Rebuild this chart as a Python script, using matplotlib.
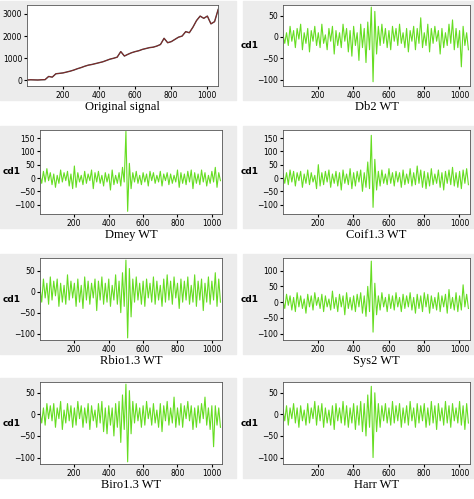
import numpy as np
import matplotlib
matplotlib.use("Agg")
import matplotlib.pyplot as plt
from matplotlib.patches import Rectangle

# original signal, one value every 20 samples
orig = [20, 30, 25, 20, 30, 35, 180, 150, 300, 320, 340, 380, 420, 470, 530, 580, 640, 690,
        720, 760, 800, 840, 900, 960, 1000, 1050, 1300, 1100, 1180, 1250, 1300, 1340, 1400, 1440,
        1480, 1500, 1550, 1620, 1900, 1700, 1750, 1850, 1950, 2000, 2200, 2150, 2400, 2700,
        2900, 2800, 2900, 2550, 2650, 3200]

db2 = [5, -15, 10, -20, 25, -10, 15, -25, 20, -5, 30, -30, 10, -15, 20, -35, 15, -10, 25, -20,
       10, -25, 30, -15, 5, -30, 20, -10, 25, -40, 15, -20, 10, -25, 30, -10, 20, -35, 15, -45,
       25, -20, 10, -55, 30, -25, 20, -60, 35, -30, 70, -105, 60, -40, 25, -20, 30, -15, 20, -25,
       15, -30, 25, -10, 20, -20, 30, -15, 10, -25, 20, -35, 15, -10, 25, -30, 20, -15, 45, -25,
       10, -20, 30, -35, 20, -15, 25, -10, 15, -40, 20, -25, 10, -20, 30, -15, 40, -30, 20, -25,
       15, -70, 25, -20, 10, -30]
dmey = [10, -20, 25, -15, 35, -10, 20, -25, 15, -35, 10, -20, 30, -15, 20, -10, 25, -30, 15, -40,
        45, -35, 20, -15, 10, -25, 25, -20, 15, -10, 30, -40, 20, -15, 25, -20, 10, -30, 20, -15,
        15, -45, 30, -25, 10, -20, 20, -30, 40, -15, 175, -125, 55, -40, 20, -15, 25, -20, 10, -25,
        20, -15, 15, -30, 25, -10, 20, -20, 10, -15, 25, -30, 15, -10, 20, -25, 15, -20, 10, -15,
        30, -35, 20, -20, 15, -25, 25, -15, 30, -40, 20, -20, 15, -25, 30, -15, 20, -30, 10, -20,
        25, -15, 40, -35, 20, -10]
coif = [15, -20, 20, -25, 30, -15, 25, -30, 20, -10, 25, -35, 15, -20, 30, -25, 20, -15, 10, -40,
        50, -30, 20, -25, 25, -15, 30, -35, 15, -20, 25, -30, 20, -45, 30, -20, 15, -25, 35, -40,
        20, -30, 25, -15, 30, -50, 20, -35, 60, -40, 160, -110, 70, -45, 25, -30, 30, -20, 15, -25,
        35, -20, 20, -30, 25, -15, 20, -35, 30, -25, 15, -20, 35, -30, 20, -25, 45, -20, 30, -35,
        25, -40, 20, -30, 35, -25, 15, -20, 30, -35, 20, -45, 25, -20, 30, -25, 40, -30, 20, -35,
        25, -40, 30, -20, 35, -25]
rbio = [10, -25, 30, -15, 20, -30, 35, -20, 25, -10, 30, -35, 20, -25, 15, -30, 40, -20, 25, -15,
        20, -35, 30, -25, 15, -40, 35, -20, 25, -30, 20, -15, 30, -45, 25, -20, 35, -30, 20, -25,
        30, -35, 15, -20, 40, -30, 25, -50, 45, -35, 75, -110, 55, -60, 30, -25, 35, -20, 20, -30,
        25, -35, 30, -15, 20, -25, 35, -30, 25, -20, 15, -35, 30, -25, 40, -20, 25, -30, 35, -15,
        20, -40, 30, -25, 25, -20, 35, -30, 15, -25, 40, -35, 25, -20, 30, -45, 20, -25, 35, -30,
        25, -20, 45, -35, 30, -25]
sys2 = [5, -20, 25, -10, 20, -25, 15, -30, 30, -15, 20, -20, 10, -35, 25, -15, 20, -25, 30, -10,
        15, -20, 25, -30, 20, -15, 10, -25, 35, -20, 15, -30, 25, -15, 20, -40, 30, -20, 15, -25,
        20, -30, 25, -15, 30, -35, 20, -45, 50, -30, 130, -95, 60, -40, 20, -25, 30, -15, 15, -30,
        25, -20, 20, -25, 30, -15, 15, -30, 25, -20, 20, -15, 30, -25, 15, -35, 25, -20, 20, -30,
        30, -15, 25, -35, 20, -20, 15, -25, 30, -30, 20, -15, 25, -35, 40, -20, 15, -25, 30, -30,
        20, -25, 55, -15, 25, -20]
biro = [5, -20, 15, -25, 25, -10, 20, -15, 25, -30, 15, -10, 30, -35, 10, -20, 25, -15, 20, -30,
        15, -25, 30, -10, 20, -30, 15, -20, 25, -35, 20, -15, 10, -30, 25, -20, 30, -40, 15, -45,
        20, -25, 15, -50, 25, -30, 30, -65, 45, -35, 70, -110, 55, -45, 30, -20, 25, -15, 15, -30,
        20, -25, 30, -10, 15, -25, 25, -20, 10, -30, 25, -40, 20, -15, 30, -25, 15, -20, 40, -30,
        15, -25, 25, -30, 20, -10, 30, -15, 20, -35, 15, -30, 20, -20, 25, -10, 40, -25, 15, -35,
        20, -75, 20, -25, 15, -30]
harr = [10, -15, 20, -25, 15, -10, 25, -20, 15, -30, 20, -15, 10, -25, 25, -20, 15, -10, 30, -25,
        20, -15, 25, -30, 15, -20, 10, -25, 20, -35, 25, -15, 15, -20, 30, -25, 20, -30, 15, -20,
        25, -35, 20, -25, 30, -40, 25, -50, 45, -30, 65, -100, 50, -40, 25, -30, 20, -15, 25, -20,
        15, -25, 30, -20, 20, -15, 25, -30, 15, -20, 20, -25, 30, -15, 15, -30, 25, -20, 20, -15,
        25, -30, 15, -25, 30, -20, 20, -35, 25, -15, 15, -25, 30, -20, 20, -30, 25, -15, 15, -20,
        30, -25, 20, -35, 25, -20]

# (data, step, ylim, yticks, caption, column, row)
panels = [
    (orig, 20, (-250, 3400), [0, 1000, 2000, 3000], "Original signal", 0, 0),
    (db2, 10, (-115, 75), [-100, -50, 0, 50], "Db2 WT", 1, 0),
    (dmey, 10, (-135, 180), [-100, -50, 0, 50, 100, 150], "Dmey WT", 0, 1),
    (coif, 10, (-135, 180), [-100, -50, 0, 50, 100, 150], "Coif1.3 WT", 1, 1),
    (rbio, 10, (-115, 80), [-100, -50, 0, 50], "Rbio1.3 WT", 0, 2),
    (sys2, 10, (-120, 140), [-100, -50, 0, 50, 100], "Sys2 WT", 1, 2),
    (biro, 10, (-115, 75), [-100, -50, 0, 50], "Biro1.3 WT", 0, 3),
    (harr, 10, (-115, 75), [-100, -50, 0, 50], "Harr WT", 1, 3),
]

W, H = 474, 499
fig = plt.figure(figsize=(W / 100, H / 100), dpi=100)
fig.patch.set_facecolor("white")

col_x = [(40, 222), (283, 470)]
row_y = [(5, 86), (130, 214), (258, 340), (382, 464)]
grey_x = [(0, 236), (243, 474)]
label_x = [12, 250]

for data, step, ylim, yticks, caption, c, r in panels:
    x0, x1 = col_x[c]
    if c == 0 and r == 0:
        x0, x1 = 27, 218
    y0, y1 = row_y[r]
    gx0, gx1 = grey_x[c]
    fig.patches.append(Rectangle((gx0 / W, 1 - (y1 + 14) / H), (gx1 - gx0) / W, (y1 - y0 + 18) / H,
                                 transform=fig.transFigure, color="#ececec", zorder=-1))
    ax = fig.add_axes([x0 / W, 1 - y1 / H, (x1 - x0) / W, (y1 - y0) / H])
    xs = np.arange(len(data)) * step + 1
    if c == 0 and r == 0:
        ax.plot(xs, data, color="#333333", lw=1.0)
        ax.plot(xs, data, color="#cc2222", lw=0.5, alpha=0.7)
    else:
        ax.plot(xs, data, color="#66dd22", lw=0.8)
        fig.text(label_x[c] / W, 1 - (y0 + y1) / 2 / H, "cd1", fontsize=6.5,
                 fontweight="bold", ha="center", va="center")
    ax.set_xlim(1, 1060)
    ax.set_ylim(*ylim)
    ax.set_yticks(yticks)
    ax.set_xticks([200, 400, 600, 800, 1000])
    ax.tick_params(labelsize=5.5, length=2, pad=1.5)
    for s in ax.spines.values():
        s.set_color("#555555")
        s.set_linewidth(0.6)
    fig.text((x0 + x1) / 2 / W, 1 - (y1 + 21) / H, caption, ha="center", va="center",
             fontsize=9, family="Liberation Serif")

fig.savefig("out.png", dpi=100)
